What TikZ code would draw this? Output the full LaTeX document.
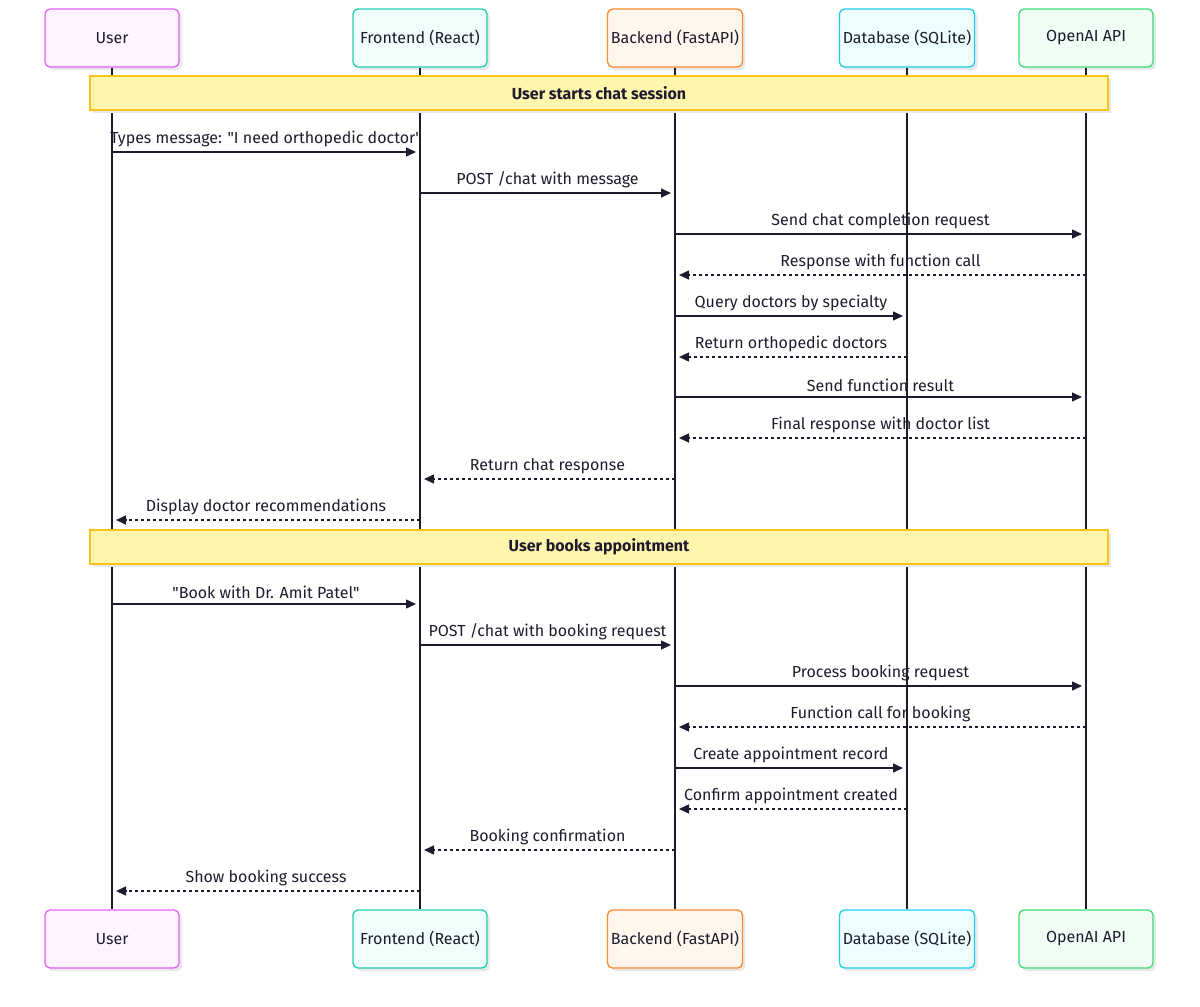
\documentclass[tikz,border=0pt]{standalone}
\usepackage{fontspec}
\setmainfont{Fira Sans}
\usetikzlibrary{arrows.meta,shadows}
\definecolor{ink}{HTML}{1E1B2E}
\definecolor{usrline}{HTML}{E462F7}
\definecolor{usrfill}{HTML}{FDF4FF}
\definecolor{feline}{HTML}{1FCFB4}
\definecolor{fefill}{HTML}{F0FDFA}
\definecolor{beline}{HTML}{FB8A2E}
\definecolor{befill}{HTML}{FFF7ED}
\definecolor{dbline}{HTML}{1BCFEB}
\definecolor{dbfill}{HTML}{ECFEFF}
\definecolor{ailine}{HTML}{3DDC76}
\definecolor{aifill}{HTML}{F0FDF4}
\definecolor{noteline}{HTML}{F5C518}
\definecolor{notefill}{HTML}{FFF5AD}
\tikzset{
  shade box/.style={drop shadow={shadow xshift=3pt,shadow yshift=-3pt,fill=black!9,opacity=1}},
  actor/.style={draw,rounded corners=5pt,line width=1.3pt,minimum width=134pt,minimum height=58pt,
    font=\fontsize{16}{18}\selectfont,text=ink,shade box},
  note/.style={draw=noteline,fill=notefill,line width=1.3pt,minimum width=1018pt,minimum height=34pt,
    font=\fontsize{16}{18}\selectfont\bfseries,text=ink,shade box},
  life/.style={draw=ink,line width=1.4pt},
  call/.style={draw=ink,line width=1.4pt,shorten >=4pt,-{Triangle[length=10pt,width=9pt]}},
  reply/.style={call,dash pattern=on 3pt off 3pt},
  lbl/.style={above=1pt,font=\fontsize{16}{18}\selectfont,text=ink}
}
\begin{document}
\begin{tikzpicture}[x=1pt,y=-1pt]
  \useasboundingbox (0,0) rectangle (1200,1007);
  % participants, top and bottom, with their lifelines
  \foreach \n/\x/\t in {usr/112/User,fe/420/{Frontend (React)},be/675/{Backend (FastAPI)},db/907/{Database (SQLite)},ai/1086/{OpenAI API}}{
    \node[actor,draw=\n line,fill=\n fill] (\n T) at (\x,38) {\t};
    \node[actor,draw=\n line,fill=\n fill] (\n B) at (\x,939) {\t};
    \draw[life] (\n T.south) -- (\n B.north);
  }
  % notes
  \node[note] (n1) at (599,93) {User starts chat session};
  \node[note] (n2) at (599,547) {User books appointment};
  % messages
  \foreach \y/\a/\b/\s/\t in {
      152/usr/fe/call/{Types message: \textquotedbl I need orthopedic doctor\textquotedbl},
      193/fe/be/call/{POST /chat with message},
      234/be/ai/call/{Send chat completion request},
      275/ai/be/reply/{Response with function call},
      316/be/db/call/{Query doctors by specialty},
      357/db/be/reply/{Return orthopedic doctors},
      397/be/ai/call/{Send function result},
      438/ai/be/reply/{Final response with doctor list},
      479/be/fe/reply/{Return chat response},
      520/fe/usr/reply/{Display doctor recommendations},
      604/usr/fe/call/{\textquotedbl Book with Dr. Amit Patel\textquotedbl},
      645/fe/be/call/{POST /chat with booking request},
      686/be/ai/call/{Process booking request},
      727/ai/be/reply/{Function call for booking},
      768/be/db/call/{Create appointment record},
      809/db/be/reply/{Confirm appointment created},
      850/be/fe/reply/{Booking confirmation},
      891/fe/usr/reply/{Show booking success}}{
    \draw[\s] (\a T |- 0,\y) -- (\b T |- 0,\y) node[midway,lbl] {\t};
  }
\end{tikzpicture}
\end{document}
